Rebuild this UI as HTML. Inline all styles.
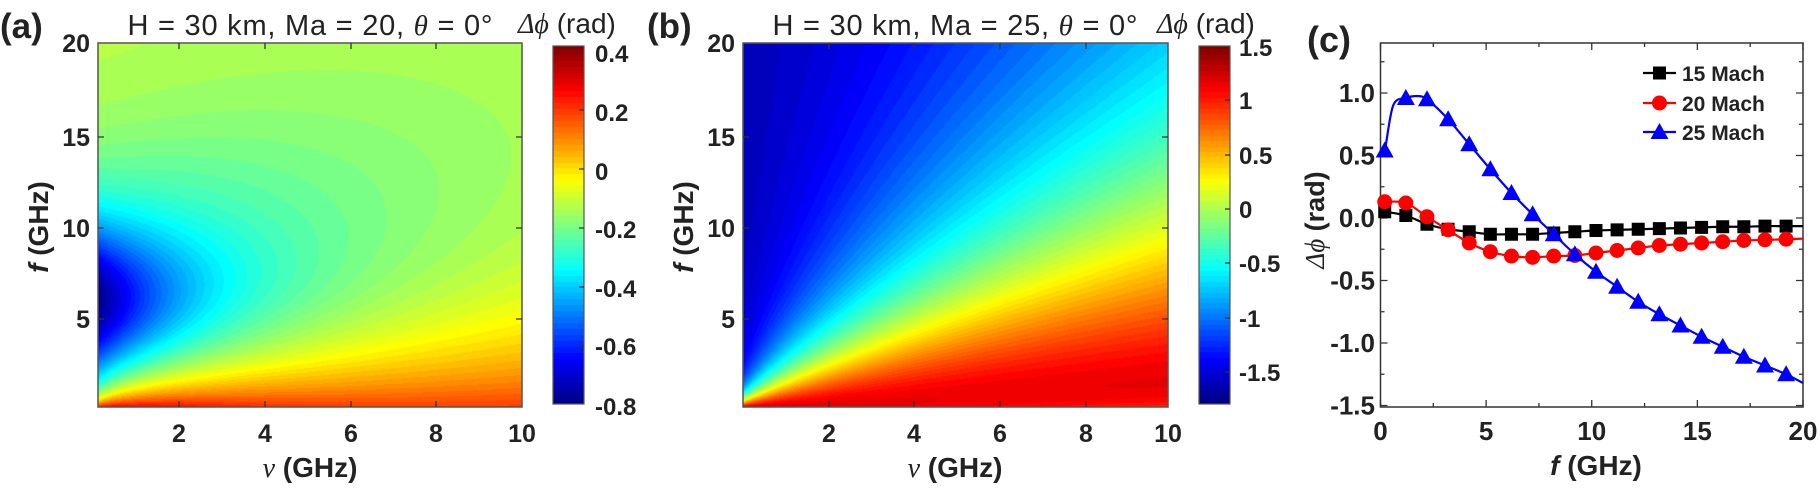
<!DOCTYPE html>
<html><head><meta charset="utf-8">
<style>
html,body{margin:0;padding:0;background:#fff;}
#w{position:relative;width:1820px;height:493px;overflow:hidden;}
canvas{position:absolute;}
svg{position:absolute;left:0;top:0;}
text{font-family:"Liberation Sans",Arial,sans-serif;fill:#222;}
.b{font-weight:bold;}
</style></head><body>
<div id="w">
<canvas id="ca" width="424" height="364" style="left:98px;top:43px"></canvas>
<canvas id="cb" width="425" height="364" style="left:743px;top:43px"></canvas>
<canvas id="cba" width="31" height="358" style="left:553px;top:46px"></canvas>
<canvas id="cbb" width="31" height="358" style="left:1199px;top:46px"></canvas>
<svg id="s" width="1820" height="493" xmlns="http://www.w3.org/2000/svg">
<rect x="98" y="43" width="424" height="364" fill="none" stroke="#555" stroke-width="1.5"/>
<rect x="743" y="43" width="425" height="364" fill="none" stroke="#555" stroke-width="1.5"/>
<rect x="553" y="46" width="31" height="358" fill="none" stroke="#555" stroke-width="1.2"/>
<rect x="1199" y="46" width="31" height="358" fill="none" stroke="#555" stroke-width="1.2"/>
<g stroke="#333" stroke-width="1.3">
<path d="M179,407v-6M265,407v-6M351,407v-6M436,407v-6M179,43v6M265,43v6M351,43v6M436,43v6M98,319h6M98,228h6M98,137h6M522,319h-6M522,228h-6M522,137h-6"/>
<path d="M829,407v-6M914,407v-6M1000,407v-6M1086,407v-6M829,43v6M914,43v6M1000,43v6M1086,43v6M743,319h6M743,228h6M743,137h6M1168,319h-6M1168,228h-6M1168,137h-6"/>
<path d="M584,110h-5M584,169h-5M584,228h-5M584,287h-5M584,346h-5"/>
<path d="M1230,100h-5M1230,155h-5M1230,209h-5M1230,263h-5M1230,318h-5M1230,372h-5"/>
</g>
<text x="0" y="38" class="b" font-size="35">(a)</text>
<text x="310" y="35" font-size="29" text-anchor="middle" textLength="365">H = 30 km, Ma = 20, <tspan font-style="italic" font-family="Liberation Serif">θ</tspan> = 0°</text>
<text x="518" y="33" font-size="28"><tspan font-style="italic" font-family="Liberation Serif">Δϕ</tspan> (rad)</text>
<g class="b" font-size="25" text-anchor="end">
<text x="90" y="52">20</text><text x="90" y="328">5</text><text x="90" y="237">10</text><text x="90" y="146">15</text>
<text x="735" y="52">20</text><text x="735" y="328">5</text><text x="735" y="237">10</text><text x="735" y="146">15</text>
</g>
<g class="b" font-size="25" text-anchor="middle">
<text x="179" y="442">2</text><text x="265" y="442">4</text><text x="351" y="442">6</text><text x="436" y="442">8</text><text x="522" y="442">10</text>
<text x="829" y="442">2</text><text x="914" y="442">4</text><text x="1000" y="442">6</text><text x="1086" y="442">8</text><text x="1168" y="442">10</text>
</g>
<g class="b" font-size="24">
<text x="595" y="62">0.4</text><text x="595" y="121">0.2</text><text x="595" y="180">0</text><text x="595" y="238">-0.2</text><text x="595" y="297">-0.4</text><text x="595" y="355">-0.6</text><text x="595" y="415">-0.8</text>
<text x="1239" y="56">1.5</text><text x="1239" y="109">1</text><text x="1239" y="164">0.5</text><text x="1239" y="218">0</text><text x="1239" y="272">-0.5</text><text x="1239" y="327">-1</text><text x="1239" y="381">-1.5</text>
</g>
<text x="310" y="477" font-size="28" text-anchor="middle"><tspan font-style="italic" font-family="Liberation Serif">ν</tspan> <tspan class="b">(GHz)</tspan></text>
<text x="955" y="477" font-size="28" text-anchor="middle"><tspan font-style="italic" font-family="Liberation Serif">ν</tspan> <tspan class="b">(GHz)</tspan></text>
<text transform="translate(48,227) rotate(-90)" font-size="28" text-anchor="middle" class="b"><tspan font-style="italic">f</tspan> (GHz)</text>
<text transform="translate(693,227) rotate(-90)" font-size="28" text-anchor="middle" class="b"><tspan font-style="italic">f</tspan> (GHz)</text>
<text x="647" y="38" class="b" font-size="35">(b)</text>
<text x="955" y="35" font-size="29" text-anchor="middle" textLength="365">H = 30 km, Ma = 25, <tspan font-style="italic" font-family="Liberation Serif">θ</tspan> = 0°</text>
<text x="1157" y="33" font-size="28"><tspan font-style="italic" font-family="Liberation Serif">Δϕ</tspan> (rad)</text>
<rect x="1380.5" y="43" width="422.5" height="364" fill="none" stroke="#333" stroke-width="1.5"/>
<g id="cg"></g>
<text x="1307" y="52" class="b" font-size="36">(c)</text>
<text transform="translate(1324,220) rotate(-90)" font-size="27" text-anchor="middle" class="b"><tspan font-style="italic" font-weight="normal" font-family="Liberation Serif">Δϕ</tspan> (rad)</text>
<text x="1596" y="475" font-size="28" text-anchor="middle" class="b"><tspan font-style="italic">f</tspan> (GHz)</text>
</svg>
</div>
<script>
function jet(t){t=Math.max(0,Math.min(1,t));const c=x=>Math.round(255*Math.max(0,Math.min(1,x)));
return [c(1.5-Math.abs(4*t-3)),c(1.5-Math.abs(4*t-2)),c(1.5-Math.abs(4*t-1))];}
function fa(v,f){
 const P=(0.7-0.3*(1-Math.exp(-v/3)))*Math.exp(-f/(0.4+1.2*Math.pow(v,0.7)));
 const w=5+0.4*v;
 const N=-0.12-0.24*Math.exp(-v/12)*Math.exp(-Math.pow(f-6.5,2)/(2*w*w))-0.46*Math.exp(-v/2)*Math.exp(-Math.pow(f-6,2)/15.7);
 return P+N;}
function fb(v,f){
 const r=f/Math.pow(v+0.3,0.9);
 let val=-1.62+2.92/(1+Math.pow(r/1.6,1.8));
 val-=0.4*Math.exp(-f/0.8)*Math.min(v,10)/10;
 val+=0.3*Math.exp(-(v+f)/0.5);
 return val;}
function draw(id,fn,x0,pxu,vmin,vmax,step){
 const c=document.getElementById(id),ctx=c.getContext('2d'),W=c.width,H=c.height;
 const im=ctx.createImageData(W,H);
 for(let j=0;j<H;j++){const f=(367-j)/18.2;
  for(let i=0;i<W;i++){const v=x0+i/pxu;
   let val=fn(v,Math.max(f,0.05));val=Math.round(val/step)*step;
   const k=jet((val-vmin)/(vmax-vmin));const p=4*(j*W+i);
   im.data[p]=k[0];im.data[p+1]=k[1];im.data[p+2]=k[2];im.data[p+3]=255;}}
 ctx.putImageData(im,0,0);}
draw('ca',fa,0.12,42.875,-0.797,0.417,0.02);
draw('cb',fb,0.1,42.9,-1.8,1.52,0.05);
function bar(id,n){const c=document.getElementById(id),ctx=c.getContext('2d');
 for(let j=0;j<c.height;j++){let t=1-j/(c.height-1);t=Math.round(t*n)/n;const k=jet(t);
  ctx.fillStyle='rgb('+k+')';ctx.fillRect(0,j,c.width,1);}}
bar('cba',60);bar('cbb',66);
const X=x=>1380.5+x*21.125, Y=v=>218-v*125;
const g=document.getElementById('cg');const NS='http://www.w3.org/2000/svg';
function el(t,a){const e=document.createElementNS(NS,t);for(const k in a)e.setAttribute(k,a[k]);g.appendChild(e);return e;}
let tk='';
for(let x=0;x<=20;x+=2.5){const l=(x%5==0)?7:4;tk+=`M${X(x)},407v-${l}M${X(x)},43v${l}`;}
for(let v=-1.5;v<=1.4;v+=0.25){const l=(Math.abs(v*2-Math.round(v*2))<1e-6)?7:4;tk+=`M1380.5,${Y(v)}h${l}M1803,${Y(v)}h-${l}`;}
el('path',{d:tk,stroke:'#333','stroke-width':1.3,fill:'none'});
[['0',0],['5',5],['10',10],['15',15],['20',20]].forEach(([s,x])=>{const t=el('text',{x:X(x),y:440,'text-anchor':'middle','font-size':26,class:'b'});t.textContent=s;});
[[1.0,'1.0'],[0.5,'0.5'],[0,'0.0'],[-0.5,'-0.5'],[-1.0,'-1.0'],[-1.5,'-1.5']].forEach(([v,s])=>{const t=el('text',{x:1375,y:Y(v)+9,'text-anchor':'end','font-size':26,class:'b'});t.textContent=s;});
const xs=[];for(let k=0;k<20;k++)xs.push(0.2+k);
const blk=[0.05,0.02,-0.05,-0.09,-0.11,-0.13,-0.13,-0.13,-0.12,-0.11,-0.10,-0.095,-0.09,-0.085,-0.08,-0.075,-0.07,-0.07,-0.065,-0.065];
const red=[0.13,0.12,0.01,-0.095,-0.2,-0.27,-0.305,-0.315,-0.305,-0.3,-0.28,-0.26,-0.24,-0.22,-0.21,-0.2,-0.19,-0.18,-0.175,-0.17];
const blu=[0.54,0.96,0.95,0.79,0.59,0.39,0.2,0.03,-0.13,-0.29,-0.43,-0.55,-0.67,-0.77,-0.86,-0.95,-1.03,-1.11,-1.18,-1.25];
function curve(pts){let d=`M${pts[0][0]},${pts[0][1]}`;
 for(let i=0;i<pts.length-1;i++){const p0=pts[Math.max(0,i-1)],p1=pts[i],p2=pts[i+1],p3=pts[Math.min(pts.length-1,i+2)];
  d+=`C${p1[0]+(p2[0]-p0[0])/6},${p1[1]+(p2[1]-p0[1])/6} ${p2[0]-(p3[0]-p1[0])/6},${p2[1]-(p3[1]-p1[1])/6} ${p2[0]},${p2[1]}`;}
 return d;}
function series(vals,start,end,col,mk,extra){
 const pts=[[X(0),Y(start)]];xs.forEach((x,i)=>pts.push([X(x),Y(vals[i])]));if(extra)extra.forEach(p=>pts.push([X(p[1]),Y(p[2])]));pts.push([X(20),Y(end)]);
 pts.sort((a,b)=>a[0]-b[0]);
 el('path',{d:curve(pts),stroke:col,'stroke-width':2.2,fill:'none'});
 xs.forEach((x,i)=>mk(X(x),Y(vals[i])));}
const sq=c=>(x,y)=>el('rect',{x:x-6.5,y:y-6.5,width:13,height:13,fill:c});
const ci=c=>(x,y)=>el('circle',{cx:x,cy:y,r:7.5,fill:c});
const tr=c=>(x,y)=>el('path',{d:`M${x},${y-9}L${x+9},${y+7}L${x-9},${y+7}Z`,fill:c});
series(blk,0.06,-0.065,'#000',sq('#000'));
series(red,0.13,-0.165,'#f00',ci('#f00'));
series(blu,0.5,-1.32,'#00f',tr('#00f'),[[1,0.6,0.9],[2,1.7,0.975]]);
[[73,'#000',sq,'15 Mach'],[103,'#f00',ci,'20 Mach'],[132,'#00f',tr,'25 Mach']].forEach(([y,c,m,s])=>{
 el('line',{x1:1643,x2:1676,y1:y,y2:y,stroke:c,'stroke-width':2.2});m(c)(1659.5,y);
 const t=el('text',{x:1682,y:y+8,'font-size':21,class:'b'});t.textContent=s;});
</script>
</body></html>
